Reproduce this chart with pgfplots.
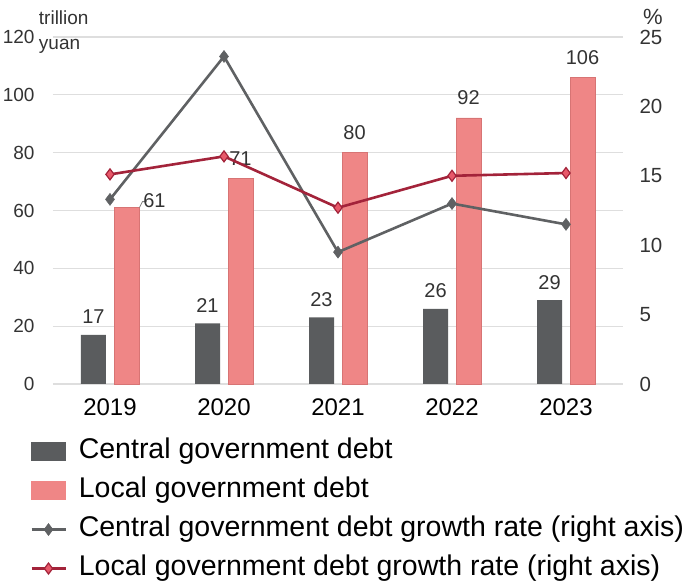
\documentclass[border=0pt]{standalone}
\usepackage{pgfplots}
\pgfplotsset{compat=1.18}
\usepackage{pgfplotstable}
\usepackage{fontspec}
\setmainfont{Liberation Sans}
\definecolor{cbar}{HTML}{5A5C5E}
\definecolor{lbar}{HTML}{EF8686}
\definecolor{lbaredge}{HTML}{D77474}
\definecolor{cline}{HTML}{5F6163}
\definecolor{lline}{HTML}{A3233A}
\definecolor{lmark}{HTML}{E8596A}
\definecolor{gridc}{HTML}{DEDEDE}
\definecolor{txt}{HTML}{333333}

\pgfplotsset{
  mylineleg/.style={legend image code/.code={\draw[mark repeat=2,mark phase=2,##1] plot coordinates {(0pt,0pt) (17pt,0pt) (34pt,0pt)};}},
  cbarleg/.style={legend image code/.code={\fill[cbar] (0pt,-9pt) rectangle (34pt,9pt);}},
  lbarleg/.style={legend image code/.code={\fill[lbar] (0pt,-9pt) rectangle (34pt,9pt);}},
}

\pgfplotstableread{
x central cg lg
0 17 13.3 15.1
1 21 23.6 16.4
2 23 9.5 12.7
3 26 13.0 15.0
4 29 11.5 15.2
}\data
\pgfplotstableread{
x local
0 61
}\localA
\pgfplotstableread{
x local
1 71
2 80
3 92
4 106
}\localB

\begin{document}
\begin{tikzpicture}
\useasboundingbox (-53pt,-199pt) rectangle (632pt,384pt);
\begin{axis}[
  at={(0pt,0pt)}, anchor=south west,
  scale only axis, width=570pt, height=347pt,
  xmin=-0.5, xmax=4.5, ymin=0, ymax=120,
  clip=false,
  axis y line*=left, axis x line*=bottom,
  axis line style={draw=none},
  major tick length=0pt,
  xtick={0,1,2,3,4}, xticklabels={2019,2020,2021,2022,2023},
  ytick={0,20,...,120},
  ymajorgrids, grid style={draw=gridc, line width=1.3pt},
  /pgf/number format/assume math mode=true,
  xticklabel style={font=\fontsize{24}{25}\selectfont, text=black, yshift=-11pt},
  yticklabel style={font=\fontsize{19}{21}\selectfont, text=txt, xshift=-15pt},
  ybar, bar width=25pt,
  nodes near coords,
  nodes near coords style={font=\fontsize{20}{22}\selectfont, text=txt, anchor=center},
]
\addplot[fill=cbar, draw=none, bar shift=-16.5pt, nodes near coords style={yshift=18pt}] table[x=x,y=central]{\data};
\addplot[fill=lbar, draw=lbaredge, line width=0.8pt, bar shift=16.5pt,
  nodes near coords style={xshift=28pt, yshift=7pt}] table[x=x,y=local]{\localA};
\addplot[fill=lbar, draw=lbaredge, line width=0.8pt, bar shift=16.5pt,
  nodes near coords style={yshift=20pt}] table[x=x,y=local]{\localB};
\draw[gray, line width=0.8pt] ([xshift=29.5pt]axis cs:0,61) -- ++(3pt,6pt) -- ++(4pt,0pt);
\node[anchor=north west, inner sep=0pt, align=left, font=\fontsize{19}{25}\selectfont, text=txt] at (axis description cs:-0.025,1.075) {trillion\\yuan};
\end{axis}
\begin{axis}[
  at={(0pt,0pt)}, anchor=south west,
  scale only axis, width=570pt, height=347pt,
  xmin=-0.5, xmax=4.5, ymin=0, ymax=25,
  clip=false,
  axis y line*=right, axis x line=none,
  axis line style={draw=none},
  major tick length=0pt,
  ytick={0,5,...,25},
  /pgf/number format/assume math mode=true,
  yticklabel style={font=\fontsize{20.5}{22}\selectfont, text=txt, xshift=13pt},
  legend style={at={(axis description cs:-0.0456,-0.145)}, anchor=north west,
    draw=none, fill=none, font=\fontsize{28.5}{31}\selectfont, text=black,
    cells={anchor=west}, row sep=9pt,
    nodes={inner sep=2pt, text height=20pt, text depth=6pt},
    /tikz/every odd column/.append style={column sep=10pt}},
]
\addlegendimage{cbarleg}
\addlegendentry{Central government debt}
\addlegendimage{lbarleg}
\addlegendentry{Local government debt}
\addplot[color=cline, line width=2.6pt, mark=diamond*, mark size=6pt,
  mark options={fill=cline, draw=cline, line width=0.5pt}, mylineleg]
  table[x=x,y=cg]{\data};
\addlegendentry{Central government debt growth rate (right axis)}
\addplot[color=lline, line width=2.6pt, mark=diamond*, mark size=5.5pt,
  mark options={fill=lmark, draw=lline, line width=1.2pt}, mylineleg]
  table[x=x,y=lg]{\data};
\addlegendentry{Local government debt growth rate (right axis)}
\node[inner sep=0pt, font=\fontsize{22}{24}\selectfont, text=txt] at (axis description cs:1.0526,1.0576) {\%};
\end{axis}
\end{tikzpicture}
\end{document}
